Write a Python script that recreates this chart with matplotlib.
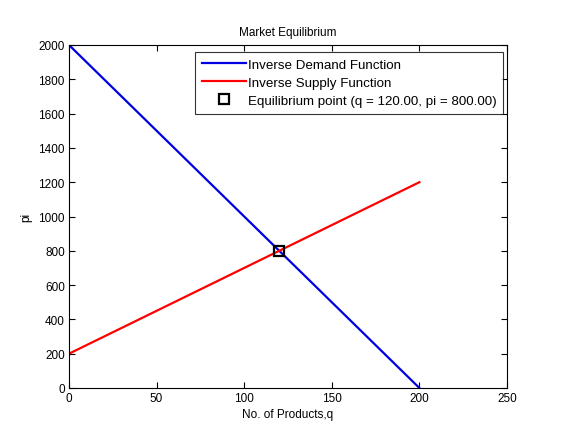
import matplotlib
matplotlib.use("Agg")
import matplotlib.pyplot as plt
import numpy as np

q = np.array([0, 200])
demand_p = np.array([2000, 0])
supply_p = np.array([200, 1200])
eq_q = 120.0
eq_p = 800.0
xticks = [0, 50, 100, 150, 200, 250]
yticks = [0, 200, 400, 600, 800, 1000, 1200, 1400, 1600, 1800, 2000]

plt.rcParams['font.family'] = ['Liberation Sans', 'DejaVu Sans']
fig = plt.figure(figsize=(5.64, 4.39), dpi=100)
ax = fig.add_axes([69/564, 1-389/439, (507-69)/564, (389-46)/439])
ax.plot(q, demand_p, color='#0000e0', lw=1.6, label='Inverse Demand Function')
ax.plot(q, supply_p, color='#ff0000', lw=1.6, label='Inverse Supply Function')
ax.plot([eq_q], [eq_p], 's', mfc='none', mec='black', mew=1.6, ms=7,
        label='Equilibrium point (q = %.2f, pi = %.2f)' % (eq_q, eq_p))
ax.set_xlim(0, 250)
ax.set_ylim(0, 2000)
ax.set_xticks(xticks)
ax.set_yticks(yticks)
ax.tick_params(direction='in', top=True, right=True, labelsize=8.5, length=4, pad=3)
for s in ax.spines.values():
    s.set_linewidth(0.8)
ax.set_xlabel('No. of Products,q', fontsize=8.5, labelpad=3)
ax.set_ylabel('pi', fontsize=8.5, labelpad=4)
ax.set_title('Market Equilibrium', fontsize=8.5, pad=7)
leg = ax.legend(loc='upper right', bbox_to_anchor=((503-69)/438, (389-53)/343),
                fontsize=9.6, frameon=True, fancybox=False,
                edgecolor='black', borderaxespad=0, handlelength=3.3,
                labelspacing=0.42, borderpad=0.5, handletextpad=0.15)
leg.get_frame().set_linewidth(0.8)
fig.savefig('out.png', dpi=100)
